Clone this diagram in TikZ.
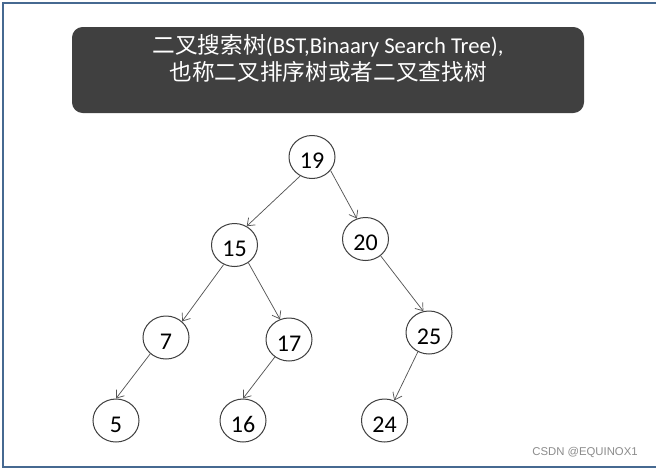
\documentclass[tikz,border=0pt]{standalone}
\usepackage{fontspec}
\setmainfont{Carlito}[Numbers=Lining]
\newfontfamily\cjk{Noto Sans CJK SC}
\newfontfamily\wmfont{Liberation Sans}
\usetikzlibrary{shapes.geometric,arrows.meta}
\definecolor{framec}{RGB}{70,105,145}
\definecolor{boxc}{RGB}{64,64,64}
\definecolor{edgec}{RGB}{85,85,85}
\tikzset{
  tnode/.style={ellipse,draw=boxc,line width=0.75pt,minimum width=34.5pt,minimum height=32.25pt,inner sep=0pt,
    font=\fontsize{18}{20}\selectfont,text height=17.5pt,text depth=0pt},
  tedge/.style={draw=edgec,line width=0.55pt,-{Straight Barb[length=5pt,width=7.5pt]}},
  banner/.style={fill=boxc,rounded corners=8pt,draw=none},
}
\begin{document}
\begin{tikzpicture}[x=0.75pt,y=-0.75pt]
\useasboundingbox (0,0) rectangle (656,469);
\fill[white] (0,0) rectangle (656,469);
\draw[framec,line width=1pt] (656,3) -- (3,3) -- (3,467) -- (656,467);
\path[banner] (72,27) rectangle (584,113);
\node[text=white,align=center,font=\fontsize{17}{20.3}\selectfont] (title) at (328,58)
  {{\cjk 二叉搜索树}(BST,Binaary Search Tree),\\{\cjk 也称二叉排序树或者二叉查找树}};
\node[tnode] (n19) at (312,157) {19};
\node[tnode] (n15) at (234.5,245) {15};
\node[tnode] (n20) at (365.5,239) {20};
\node[tnode] (n7) at (166,337.5) {7};
\node[tnode] (n17) at (289,339.5) {17};
\node[tnode] (n25) at (429,332.5) {25};
\node[tnode] (n5) at (116,420.5) {5};
\node[tnode] (n16) at (243,420.5) {16};
\node[tnode] (n24) at (384.5,420.5) {24};
\draw[tedge] (n19.238) -- (n15.57);
\draw[tedge] (n19.324) -- (n20.113);
\draw[tedge] (n15.241) -- (n7.45);
\draw[tedge] (n15.308) -- (n17.114);
\draw[tedge] (n20.312) -- (n25.105);
\draw[tedge] (n7.226) -- (n5.90);
\draw[tedge] (n17.231) -- (n16.90);
\draw[tedge] (n25.240) -- (n24.64);
\node[text=black!45,font=\wmfont\fontsize{8.5}{10}\selectfont] (wm) at (585,452) {CSDN @EQUINOX1};
\end{tikzpicture}
\end{document}
